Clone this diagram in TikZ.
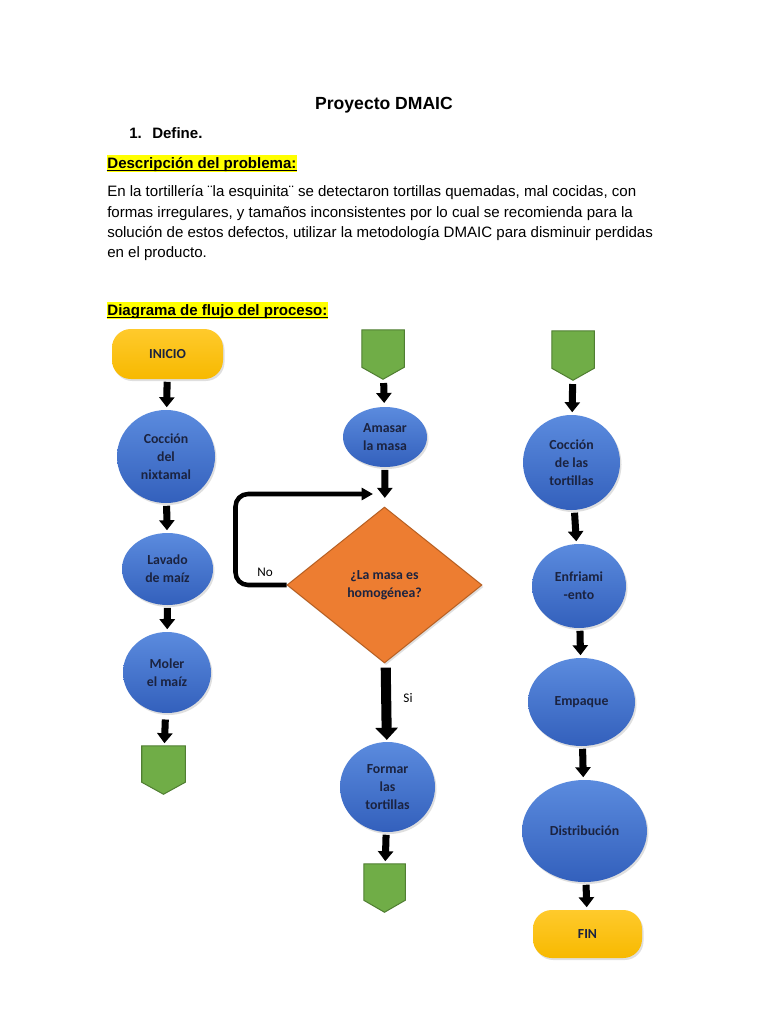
\documentclass[tikz,border=0pt]{standalone}
\usepackage{fontspec}
\setmainfont{Liberation Sans}
\newfontfamily\calib{Carlito}
\usetikzlibrary{shapes.geometric,arrows.meta,shadows}
\def\pxu{0.796875pt}
\definecolor{bluetop}{HTML}{5B8BDE}
\definecolor{bluebot}{HTML}{3360BC}
\definecolor{navytxt}{HTML}{1B2340}
\definecolor{yeltop}{HTML}{FFCA2C}
\definecolor{yelbot}{HTML}{F7B900}
\definecolor{grfill}{HTML}{70AD47}
\definecolor{grline}{HTML}{507E32}
\definecolor{orfill}{HTML}{ED7D31}
\definecolor{orline}{HTML}{B65F22}
\definecolor{hilite}{HTML}{FFFF00}
\tikzset{
  dims/.style 2 args={minimum width=#1*\pxu, minimum height=#2*\pxu},
  shad/.style={drop shadow={opacity=0.25,shadow xshift=1.2pt,shadow yshift=-1.6pt}},
  proc/.style={ellipse, inner sep=0pt, top color=bluetop, bottom color=bluebot, draw=none,
    font=\calib\bfseries\fontsize{11}{14.3}\selectfont, text=navytxt, align=center, shad},
  term/.style={rectangle, rounded corners=15pt, inner sep=0pt, top color=yeltop, bottom color=yelbot,
    draw=none, font=\calib\bfseries\fontsize{11}{14.3}\selectfont, text=navytxt, shad},
  decis/.style={diamond, inner sep=0pt, fill=orfill, draw=orline, line width=0.8pt,
    font=\calib\bfseries\fontsize{11}{14.3}\selectfont, text=navytxt, align=center, shad},
  offpage/.style={rectangle, inner sep=0pt, draw=none},
  pent/.style={fill=grfill, draw=grline, line width=0.8pt},
  flow/.style={line width=5.6pt, -{Triangle[width=12pt,length=8pt]}, shorten <=2pt, shorten >=2pt},
  bigflow/.style={line width=8pt, -{Triangle[width=17.5pt,length=9.6pt]}, shorten <=4pt, shorten >=1.5pt},
  loopline/.style={line width=3.6pt, rounded corners=10pt, -{Triangle[width=9.5pt,length=9pt]}},
  doctext/.style={anchor=base west, inner sep=0pt, font=\fontsize{12}{14}\selectfont},
  head/.style={anchor=base west, font=\bfseries\fontsize{12}{14}\selectfont, fill=hilite,
    inner xsep=0.5pt, inner ysep=0pt, text height=10pt, text depth=3.2pt},
  lbl/.style={font=\calib\fontsize{10.5}{12}\selectfont, text=black},
}
\newcommand\drawpent[1]{%
  \filldraw[pent] (#1.north west) -- (#1.north east) -- ([yshift=12*\pxu]#1.south east)
    -- (#1.south) -- ([yshift=12*\pxu]#1.south west) -- cycle;}
\begin{document}
\begin{tikzpicture}[x=0.796875pt, y=-0.796875pt]
\fill[white] (0,0) rectangle (768,1024);
\useasboundingbox (0,0) rectangle (768,1024);

% ---------- document text ----------
\node[anchor=base, inner sep=0pt, font=\bfseries\fontsize{14}{16}\selectfont] (title) at (384,109) {Proyecto DMAIC};
\node[anchor=base west, inner sep=0pt, font=\bfseries\fontsize{12}{14}\selectfont] (num) at (129,138) {1.};
\node[anchor=base west, inner sep=0pt, font=\bfseries\fontsize{12}{14}\selectfont] (define) at (152,138) {Define.};
\node[head] (h1) at (106.5,168) {Descripción del problema:};
\draw[line width=0.9pt] ([yshift=-1.8pt]h1.base west) -- ([yshift=-1.8pt]h1.base east);
\node[doctext] (p1) at (107,196) {En la tortillería ¨la esquinita¨ se detectaron tortillas quemadas, mal cocidas, con};
\node[doctext] (p2) at (107,217) {formas irregulares, y tamaños inconsistentes por lo cual se recomienda para la};
\node[doctext] (p3) at (107,237) {solución de estos defectos, utilizar la metodología DMAIC para disminuir perdidas};
\node[doctext] (p4) at (107,257) {en el producto.};
\node[head] (h2) at (106.5,315) {Diagrama de flujo del proceso:};
\draw[line width=0.9pt] ([yshift=-1.8pt]h2.base west) -- ([yshift=-1.8pt]h2.base east);

% ---------- left column ----------
\node[term, dims={111}{50}] (ini) at (167.5,354) {INICIO};
\node[proc, dims={98}{93}] (c1) at (166,456.5) {Cocción\\del\\nixtamal};
\node[proc, dims={91}{72}] (c2) at (167.5,569) {Lavado\\de maíz};
\node[proc, dims={88}{81}] (c3) at (167,672.5) {Moler\\el maíz};
\node[offpage, dims={43}{48}] (g1) at (163.5,770) {};
\drawpent{g1}

% ---------- middle column ----------
\node[offpage, dims={42}{49}] (g2) at (383,354.5) {};
\drawpent{g2}
\node[proc, dims={84}{60}] (m1) at (385,437) {Amasar\\la masa};
\node[decis, dims={195}{156}] (d) at (384.5,585) {¿La masa es\\homogénea?};
\node[proc, dims={95}{90}] (m2) at (387.5,787) {Formar\\las\\tortillas};
\node[offpage, dims={41}{48}] (g3) at (384.5,888) {};
\drawpent{g3}

% ---------- right column ----------
\node[offpage, dims={42}{49}] (g4) at (573,355.5) {};
\drawpent{g4}
\node[proc, dims={97}{95}] (r1) at (571.5,462.5) {Cocción\\de las\\tortillas};
\node[proc, dims={94}{84}] (r2) at (579,586) {Enfriami\\-ento};
\node[proc, dims={107}{88}] (r3) at (581.5,702) {Empaque};
\node[proc, dims={125}{102}] (r4) at (584.5,831) {Distribución};
\node[term, dims={109}{48}] (fin) at (587.5,934) {FIN};

% ---------- connectors ----------
\draw[flow] (ini) -- (c1);
\draw[flow] (c1) -- (c2);
\draw[flow] (c2) -- (c3);
\draw[flow, shorten <=5pt] (c3) -- (g1);
\draw[flow, shorten <=3pt, shorten >=3pt] (g2) -- (m1);
\draw[flow, shorten >=7pt] (m1) -- (d);
\draw[bigflow] (d) -- (m2);
\draw[flow] (m2) -- (g3);
\draw[flow, shorten <=3pt] (g4) -- (r1);
\draw[flow] (r1) -- (r2);
\draw[flow] (r2) -- (r3);
\draw[flow] (r3) -- (r4);
\draw[flow] (r4) -- (fin);

\coordinate (loopend) at (373,494);
\draw[loopline] (d.west) -- ++(-51,0) |- (loopend);

\node[lbl] (no) at (265,572) {No};
\node[lbl] (si) at (408,698) {Si};
\end{tikzpicture}
\end{document}
